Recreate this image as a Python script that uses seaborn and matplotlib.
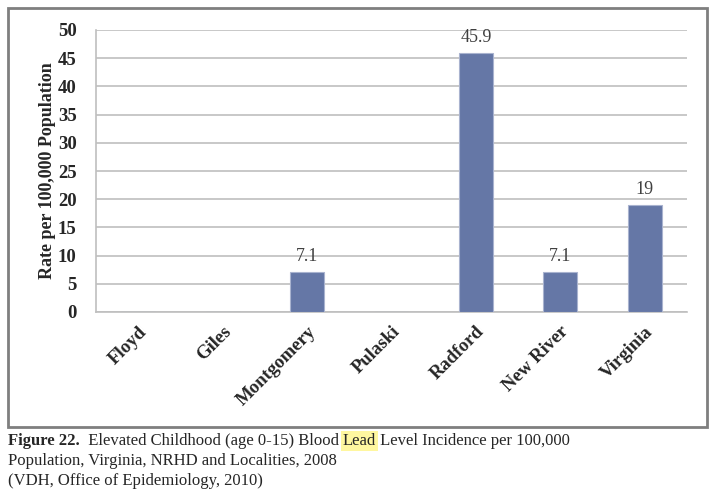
import matplotlib
matplotlib.use("Agg")
import matplotlib.pyplot as plt
import seaborn as sns
from matplotlib.patches import Rectangle

localities = ['Floyd', 'Giles', 'Montgomery', 'Pulaski', 'Radford', 'New River', 'Virginia']
rates = [0, 0, 7.1, 0, 45.9, 7.1, 19]
labels = ['', '', '7.1', '', '45.9', '7.1', '19']

sns.set_style("white")
plt.rcParams['font.family'] = ['Liberation Serif', 'DejaVu Serif']

fig = plt.figure(figsize=(7.14, 5.0), dpi=100)
ax = fig.add_axes([0.1345, 0.376, 0.8275, 0.564])

sns.barplot(x=localities, y=rates, color='#6577A6', width=0.4,
            edgecolor='#A9B3CF', linewidth=0.8, saturation=1, ax=ax, zorder=3)

for i, (v, t) in enumerate(zip(rates, labels)):
    if t:
        ax.text(i, v + 1.3, t, ha='center', va='bottom', fontsize=13, color='#404040')

ax.set_ylim(0, 50)
ax.set_yticks(range(0, 51, 5))
ax.yaxis.grid(True, color='#BFBFBF', linewidth=1.2, zorder=0)
ax.set_axisbelow(True)
for s in ['top', 'right']:
    ax.spines[s].set_visible(False)
for s in ['left', 'bottom']:
    ax.spines[s].set_color('#BFBFBF')
    ax.spines[s].set_linewidth(1.2)
ax.tick_params(axis='y', length=0, pad=14)
ax.tick_params(axis='x', length=0, pad=8)
plt.setp(ax.get_yticklabels(), fontsize=13.5, fontweight='bold')
plt.setp(ax.get_xticklabels(), fontsize=13.5, fontweight='bold', rotation=45,
         ha='right', rotation_mode='anchor')
ax.set_ylabel('Rate per 100,000 Population', fontsize=13, fontweight='bold', labelpad=1)

# frame round the chart
fig.patches.append(Rectangle((0.011, 0.146), 0.979, 0.838, transform=fig.transFigure,
                             fill=False, edgecolor='#7F7F7F', linewidth=2))

# caption
fs = 12
renderer = fig.canvas.get_renderer()
y1 = 1 - 441 / 500
x = 8 / 714
pieces = [('Figure 22.', 'bold', None),
          ('  Elevated Childhood (age 0-15) Blood ', 'normal', None),
          ('Lead', 'normal', '#FFF7A0'),
          (' Level Incidence per 100,000', 'normal', None)]
for txt, w, hl in pieces:
    kw = {}
    if hl:
        kw['bbox'] = dict(facecolor=hl, edgecolor='none', pad=1.5)
    t = fig.text(x, y1, txt, fontsize=fs, fontweight=w, va='center', ha='left', **kw)
    x += t.get_window_extent(renderer).width / fig.bbox.width
fig.text(8 / 714, 1 - 461 / 500, 'Population, Virginia, NRHD and Localities, 2008',
         fontsize=fs, va='center')
fig.text(8 / 714, 1 - 481 / 500, '(VDH, Office of Epidemiology, 2010)',
         fontsize=fs, va='center')

fig.savefig('out.png', dpi=100)
